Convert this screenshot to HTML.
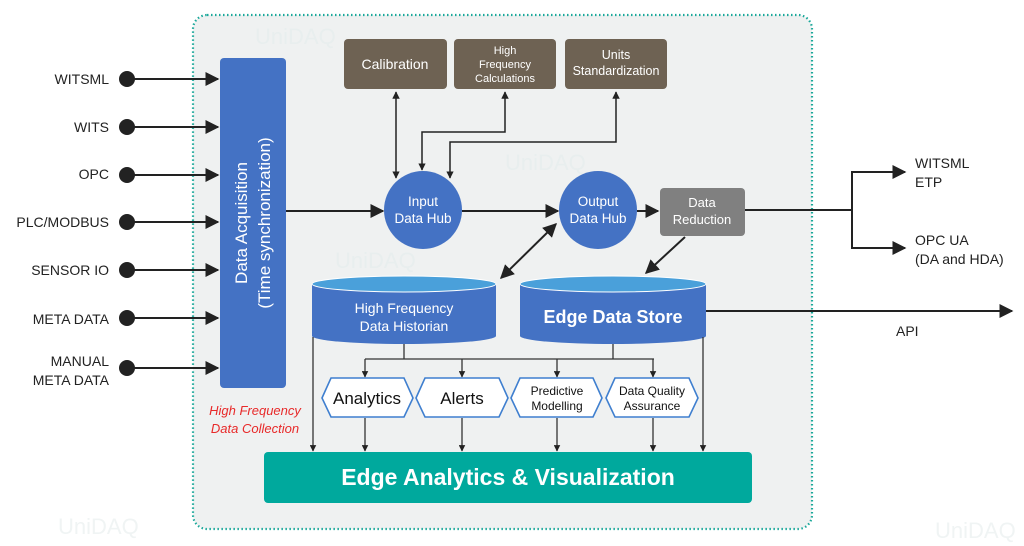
<!DOCTYPE html>
<html><head><meta charset="utf-8"><style>
html,body{margin:0;padding:0;background:#fff;}
svg{display:block;font-family:"Liberation Sans",sans-serif;}
</style></head><body>
<svg width="1024" height="546" viewBox="0 0 1024 546" xmlns="http://www.w3.org/2000/svg">
<defs>
<marker id="a" viewBox="0 0 10 10" refX="9" refY="5" markerWidth="5" markerHeight="5" orient="auto-start-reverse"><path d="M0,0L10,5L0,10z" fill="#222"/></marker>
<marker id="s" viewBox="0 0 10 10" refX="9" refY="5" markerWidth="7" markerHeight="7" orient="auto-start-reverse"><path d="M0,0L10,5L0,10z" fill="#222"/></marker>
</defs>
<rect width="1024" height="546" fill="#fff"/>
<rect x="193" y="15" width="619" height="514" rx="14" fill="#eff1f1" stroke="#1aa89a" stroke-width="2.2" stroke-dasharray="1.5 2.5"/>
<g fill="#e8eeee" font-size="22">
<text x="255" y="44">UniDAQ</text><text x="505" y="170">UniDAQ</text><text x="335" y="268">UniDAQ</text></g>
<g fill="#f0f4f4" font-size="22">
<text x="58" y="534">UniDAQ</text><text x="935" y="538">UniDAQ</text></g>

<!-- inputs -->
<g font-size="14" fill="#222" text-anchor="end">
<text x="109" y="84">WITSML</text><text x="109" y="132">WITS</text><text x="109" y="179">OPC</text>
<text x="109" y="227">PLC/MODBUS</text><text x="109" y="275">SENSOR IO</text><text x="109" y="324">META DATA</text>
<text x="109" y="366">MANUAL</text><text x="109" y="385">META DATA</text></g>
<g stroke="#222" stroke-width="2" fill="#222">
<g marker-end="url(#s)">
<line x1="134" y1="79" x2="218" y2="79"/><line x1="134" y1="127" x2="218" y2="127"/><line x1="134" y1="175" x2="218" y2="175"/>
<line x1="134" y1="222" x2="218" y2="222"/><line x1="134" y1="270" x2="218" y2="270"/><line x1="134" y1="318" x2="218" y2="318"/>
<line x1="134" y1="368" x2="218" y2="368"/></g>
<circle cx="127" cy="79" r="8" stroke="none"/><circle cx="127" cy="127" r="8" stroke="none"/><circle cx="127" cy="175" r="8" stroke="none"/>
<circle cx="127" cy="222" r="8" stroke="none"/><circle cx="127" cy="270" r="8" stroke="none"/><circle cx="127" cy="318" r="8" stroke="none"/>
<circle cx="127" cy="368" r="8" stroke="none"/></g>

<rect x="220" y="58" width="66" height="330" rx="4" fill="#4472c4"/>
<g transform="translate(253,223) rotate(-90)" fill="#fff" font-size="17" text-anchor="middle">
<text x="0" y="-6">Data Acquisition</text><text x="0" y="17">(Time synchronization)</text></g>
<g fill="#e82a2a" font-size="13" font-style="italic" text-anchor="middle">
<text x="255" y="415">High Frequency</text><text x="255" y="433">Data Collection</text></g>

<!-- brown boxes -->
<g fill="#6e6253"><rect x="344" y="39" width="103" height="50" rx="4"/><rect x="454" y="39" width="102" height="50" rx="4"/><rect x="565" y="39" width="102" height="50" rx="4"/></g>
<g fill="#fff" text-anchor="middle">
<text x="395" y="69" font-size="14">Calibration</text>
<text x="505" y="54" font-size="11">High</text><text x="505" y="68" font-size="11">Frequency</text><text x="505" y="82" font-size="11">Calculations</text>
<text x="616" y="59" font-size="12.5">Units</text><text x="616" y="75" font-size="12.5">Standardization</text></g>

<g stroke="#222" stroke-width="1.5" fill="none">
<line x1="396" y1="92" x2="396" y2="178" marker-start="url(#a)" marker-end="url(#a)"/>
<polyline points="505,92 505,132 422,132 422,170" marker-start="url(#a)" marker-end="url(#a)"/>
<polyline points="616,92 616,142 450,142 450,178" marker-start="url(#a)" marker-end="url(#a)"/>
</g>
<g stroke="#222" stroke-width="2" fill="none">
<line x1="286" y1="211" x2="383" y2="211" marker-end="url(#s)"/>
<line x1="462" y1="211" x2="558" y2="211" marker-end="url(#s)"/>
<line x1="637" y1="211" x2="658" y2="211" marker-end="url(#s)"/>
<line x1="556" y1="224" x2="501" y2="278" marker-start="url(#s)" marker-end="url(#s)"/>
<line x1="685" y1="237" x2="646" y2="273" marker-end="url(#s)"/>
<polyline points="745,210 852,210"/>
<polyline points="905,172 852,172 852,248 905,248" marker-start="url(#s)" marker-end="url(#s)"/>
<line x1="706" y1="311" x2="1012" y2="311" marker-end="url(#s)"/>
</g>

<circle cx="423" cy="210" r="39" fill="#4472c4"/><circle cx="598" cy="210" r="39" fill="#4472c4"/>
<g fill="#fff" font-size="13.5" text-anchor="middle">
<text x="423" y="206">Input</text><text x="423" y="223">Data Hub</text>
<text x="598" y="206">Output</text><text x="598" y="223">Data Hub</text></g>
<rect x="660" y="188" width="85" height="48" rx="4" fill="#808080"/>
<g fill="#fff" font-size="13" text-anchor="middle"><text x="702" y="207">Data</text><text x="702" y="224">Reduction</text></g>

<g font-size="14" fill="#222">
<text x="915" y="168">WITSML</text><text x="915" y="187">ETP</text>
<text x="915" y="245">OPC UA</text><text x="915" y="264">(DA and HDA)</text>
<text x="896" y="336">API</text></g>

<!-- cylinders -->
<g>
<path d="M312,284 L312,336 A92,8 0 0 0 496,336 L496,284 z" fill="#4472c4"/>
<ellipse cx="404" cy="284" rx="92" ry="8" fill="#4aa0da" stroke="#fff" stroke-width="1"/>
<path d="M520,284 L520,336 A93,8 0 0 0 706,336 L706,284 z" fill="#4472c4"/>
<ellipse cx="613" cy="284" rx="93" ry="8" fill="#4aa0da" stroke="#fff" stroke-width="1"/>
</g>
<g fill="#fff" text-anchor="middle">
<text x="404" y="313" font-size="14">High Frequency</text><text x="404" y="331" font-size="14">Data Historian</text>
<text x="613" y="323" font-size="18" font-weight="bold">Edge Data Store</text></g>

<g stroke="#333" stroke-width="1.3" fill="none">
<polyline points="404,344 404,359"/><polyline points="613,344 613,359"/>
<line x1="365" y1="359" x2="654" y2="359"/>
<g marker-end="url(#a)">
<line x1="365" y1="359" x2="365" y2="377"/><line x1="462" y1="359" x2="462" y2="377"/>
<line x1="557" y1="359" x2="557" y2="377"/><line x1="653" y1="359" x2="653" y2="377"/>
<line x1="365" y1="418" x2="365" y2="451"/><line x1="462" y1="418" x2="462" y2="451"/>
<line x1="557" y1="418" x2="557" y2="451"/><line x1="653" y1="418" x2="653" y2="451"/>
<line x1="313" y1="337" x2="313" y2="451"/><line x1="703" y1="337" x2="703" y2="451"/>
</g></g>

<g fill="#fff" stroke="#3f7fcf" stroke-width="1.6">
<polygon points="322,398 331,378 404,378 413,398 404,417 331,417"/>
<polygon points="416,398 425,378 499,378 508,398 499,417 425,417"/>
<polygon points="511,398 520,378 593,378 602,398 593,417 520,417"/>
<polygon points="606,398 615,378 689,378 698,398 689,417 615,417"/></g>
<g fill="#111" text-anchor="middle">
<text x="367" y="404" font-size="17">Analytics</text><text x="462" y="404" font-size="17">Alerts</text>
<text x="557" y="395" font-size="12">Predictive</text><text x="557" y="410" font-size="12">Modelling</text>
<text x="652" y="395" font-size="12">Data Quality</text><text x="652" y="410" font-size="12">Assurance</text></g>

<rect x="264" y="452" width="488" height="51" rx="4" fill="#00a99d"/>
<text x="508" y="485" fill="#fff" font-size="23" font-weight="bold" text-anchor="middle">Edge Analytics &amp; Visualization</text>
</svg>
</body></html>
